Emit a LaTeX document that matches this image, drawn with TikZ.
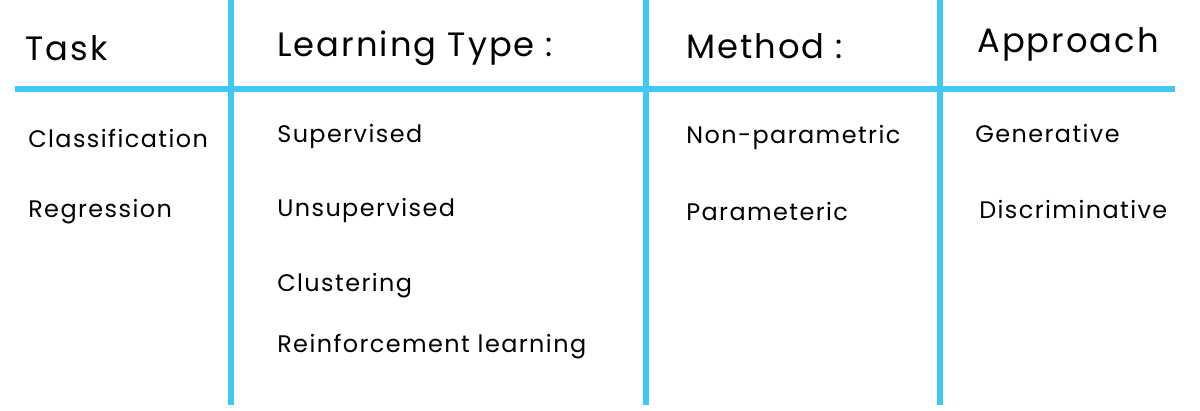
\documentclass[tikz,border=0pt]{standalone}
\usepackage{fontspec}
\setmainfont[LetterSpace=6]{Poppins}
\begin{document}
\begin{tikzpicture}[x=0.025cm,y=-0.025cm,
  rule/.style={line width=3.6pt,draw={rgb,255:red,64;green,200;blue,245}},
  head/.style={anchor=west,font=\fontsize{24}{28}\selectfont,inner sep=0},
  item/.style={anchor=west,font=\fontsize{17}{20}\selectfont,inner sep=0}]
\useasboundingbox (0,0) rectangle (1200,411);
\coordinate (h1) at (15,89); \coordinate (h2) at (1175,89);
\coordinate (v1a) at (231,0); \coordinate (v1b) at (231,405);
\coordinate (v2a) at (646,0); \coordinate (v2b) at (646,405);
\coordinate (v3a) at (940,0); \coordinate (v3b) at (940,405);
\draw[rule] (h1) -- (h2);
\draw[rule] (v1a) -- (v1b);
\draw[rule] (v2a) -- (v2b);
\draw[rule] (v3a) -- (v3b);
\node[head] (t1) at (25,48) {Task};
\node[head] (t2) at (277,48) {Learning Type :};
\node[head] (t3) at (686,46) {Method :};
\node[head] (t4) at (977,44) {Approach};
\node[item] (a1) at (28,138) {Classification};
\node[item] (a2) at (28,212) {Regression};
\node[item] (b1) at (277,137) {Supervised};
\node[item] (b2) at (277,211) {Unsupervised};
\node[item] (b3) at (277,286) {Clustering};
\node[item] (b4) at (277,347) {Reinforcement learning};
\node[item] (c1) at (686,138) {Non-parametric};
\node[item] (c2) at (686,212) {Parameteric};
\node[item] (d1) at (975,134) {Generative};
\node[item] (d2) at (979,210) {Discriminative};
\end{tikzpicture}
\end{document}
